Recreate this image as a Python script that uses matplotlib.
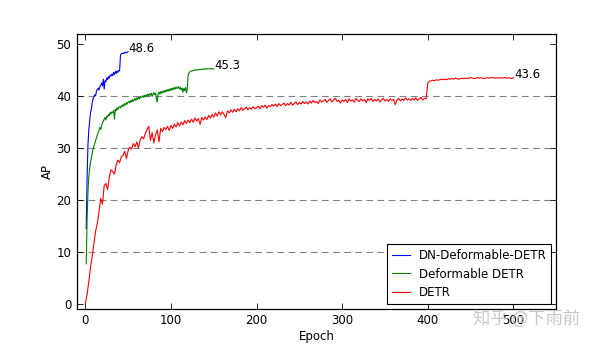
import numpy as np
import matplotlib
matplotlib.use("Agg")
import matplotlib.pyplot as plt

# DN-Deformable-DETR, epochs 1..50
dn_epochs = np.arange(1, 51)
dn_ap = [14.5, 24.0, 30.5, 33.5, 35.2, 36.8, 37.5, 38.8, 39.5, 39.9,
         40.3, 40.1, 41.0, 41.3, 41.6, 41.2, 41.9, 42.1, 42.6, 42.0,
         43.3, 41.4, 43.0, 42.8, 43.6, 43.2, 43.8, 43.5, 44.1, 43.9,
         44.3, 44.0, 44.6, 44.2, 44.8, 44.4, 44.9, 44.6, 45.0, 44.9,
         47.9, 48.2, 48.3, 48.2, 48.4, 48.3, 48.5, 48.4, 48.5, 48.6]

# Deformable DETR, epochs 1..150
deform_epochs = np.arange(1, 151)
deform_ap = [7.7, 16.0, 21.5, 24.5, 26.0, 27.3, 28.2, 29.0, 29.8, 30.4,
             30.9, 31.5, 32.0, 32.6, 33.0, 33.5, 34.0, 33.6, 34.4, 34.9,
             35.2, 35.6, 35.9, 35.4, 36.2, 36.0, 36.5, 36.3, 36.9, 36.6,
             37.0, 36.8, 37.3, 35.6, 37.5, 37.2, 37.8, 37.4, 37.9, 38.0,
             37.7, 38.2, 38.0, 38.4, 38.1, 38.6, 38.3, 38.8, 38.5, 38.9,
             39.0, 38.7, 39.2, 38.9, 39.4, 39.0, 39.3, 39.6, 39.2, 39.7,
             39.4, 39.8, 39.5, 40.0, 39.7, 39.9, 40.1, 39.8, 40.2, 39.9,
             40.3, 40.0, 40.4, 40.1, 40.5, 40.2, 40.6, 40.0, 40.4, 40.7,
             40.3, 40.6, 39.5, 38.9, 40.5, 40.8, 40.4, 40.9, 40.6, 41.0,
             40.7, 41.1, 40.8, 41.2, 40.9, 41.3, 41.0, 41.4, 41.1, 41.5,
             41.2, 41.6, 41.3, 41.7, 41.4, 41.8, 41.5, 41.6, 41.9, 41.4,
             41.7, 41.2, 41.6, 40.8, 41.5, 41.1, 41.7, 40.7, 41.3, 44.0,
             44.5, 44.7, 44.8, 44.9, 44.9, 45.0, 45.0, 45.1, 45.0, 45.1,
             45.1, 45.2, 45.1, 45.2, 45.2, 45.1, 45.2, 45.3, 45.2, 45.3,
             45.3, 45.2, 45.3, 45.3, 45.3, 45.4, 45.3, 45.3, 45.3, 45.3]

# DETR, epochs 0..500 every 2
detr_epochs = np.arange(0, 501, 2)
detr_ap = [0.0, 1.8, 4.2, 7.0, 9.2, 11.6, 14.0, 15.5, 17.8, 20.3,
           19.2, 22.8, 23.2, 22.0, 24.5, 25.8, 25.5, 25.0, 26.8, 27.7,
           27.2, 28.4, 28.6, 29.4, 28.0, 29.6, 30.2, 29.8, 30.9, 30.3,
           31.2, 30.0, 31.6, 32.2, 31.8, 32.8, 33.6, 34.2, 31.5, 33.0,
           31.0, 32.6, 33.5, 31.2, 33.8, 33.2, 34.0, 33.6, 34.2, 33.4,
           34.4, 33.8, 34.6, 34.1, 34.9, 34.3, 35.0, 34.5, 35.3, 34.8,
           35.4, 34.9, 35.6, 35.0, 35.8, 35.2, 35.7, 34.6, 35.9, 35.4,
           36.0, 35.5, 36.3, 35.8, 36.5, 36.0, 36.8, 36.2, 37.0, 36.4,
           37.0, 36.5, 35.9, 37.2, 36.8, 37.4, 36.9, 37.5, 37.0, 37.6,
           37.2, 37.8, 37.3, 37.6, 37.9, 37.4, 37.8, 37.5, 38.0, 37.6,
           37.8, 38.1, 37.6, 38.2, 37.9, 38.3, 37.7, 38.2, 38.0, 38.4,
           38.1, 38.5, 38.0, 38.6, 38.2, 38.4, 38.7, 38.2, 38.6, 38.3,
           38.8, 38.3, 38.6, 38.9, 38.4, 38.8, 38.5, 39.0, 38.6, 38.9,
           38.5, 39.1, 38.7, 39.2, 38.8, 39.0, 38.6, 39.3, 38.9, 39.1,
           39.4, 38.8, 39.2, 39.5, 38.9, 39.3, 39.6, 39.0, 39.2, 38.7,
           39.3, 39.0, 39.4, 38.8, 39.5, 39.1, 39.3, 38.9, 39.6, 39.2,
           39.0, 39.5, 39.1, 39.4, 38.8, 39.5, 39.2, 39.6, 39.0, 39.4,
           39.1, 39.5, 38.9, 39.3, 39.6, 39.1, 39.4, 39.0, 39.5, 39.2,
           39.4, 38.4, 39.3, 39.6, 39.1, 39.5, 39.2, 39.7, 39.3, 39.5,
           39.2, 39.6, 39.3, 39.7, 39.2, 39.5, 39.8, 39.3, 39.6, 39.5,
           42.6, 42.9, 43.0, 43.1, 43.0, 43.2, 43.1, 43.2, 43.3, 43.2,
           43.3, 43.2, 43.4, 43.3, 43.4, 43.3, 43.5, 43.4, 43.3, 43.4,
           43.5, 43.4, 43.5, 43.4, 43.5, 43.6, 43.5, 43.4, 43.5, 43.6,
           43.5, 43.6, 43.5, 43.4, 43.5, 43.6, 43.5, 43.6, 43.6, 43.5,
           43.6, 43.5, 43.6, 43.5, 43.6, 43.6, 43.5, 43.6, 43.5, 43.4,
           43.6]

final_labels = ["48.6", "45.3", "43.6"]
series_names = ["DN-Deformable-DETR", "Deformable DETR", "DETR"]

plt.rcParams['font.family'] = ['DejaVu Sans']
fs = 8.5
fig = plt.figure(figsize=(6, 3.44), dpi=100)
ax = fig.add_axes([0.128, 0.102, 0.799, 0.799])

series = [(dn_epochs, dn_ap, 'b'), (deform_epochs, deform_ap, 'g'), (detr_epochs, detr_ap, 'r')]
for (x, y, c), name, lab in zip(series, series_names, final_labels):
    ax.plot(x, y, color=c, lw=0.8, label=name)
    ax.annotate(lab, (x[-1], y[-1]), xytext=(0.5, 2.5), textcoords='offset points',
                fontsize=fs, va='center', ha='left')

for yv in [10, 20, 30, 40]:
    ax.axhline(yv, color='gray', lw=0.8, ls=(0, (6, 4)), zorder=0)

ax.set_xlim(-10, 550)
ax.set_ylim(-1, 52)
ax.set_xticks(range(0, 501, 100))
ax.set_yticks(range(0, 51, 10))
ax.tick_params(direction='in', top=True, right=True, labelsize=fs, length=4, width=0.6, pad=4)
for s in ax.spines.values():
    s.set_linewidth(0.9)
ax.set_xlabel("Epoch", fontsize=fs, labelpad=2)
ax.set_ylabel("AP", fontsize=fs, labelpad=2)

leg = ax.legend(loc='lower right', fontsize=fs, fancybox=False, framealpha=1,
                handlelength=1.5, borderaxespad=0.4, edgecolor='black')
leg.get_frame().set_linewidth(0.8)

fig.text(0.788, 0.07, "知乎 @下雨前", fontsize=12.5, color='#c8c8c8', va='center',
         family=['Noto Sans CJK SC', 'DejaVu Sans'])

fig.savefig("out.png", dpi=100)
